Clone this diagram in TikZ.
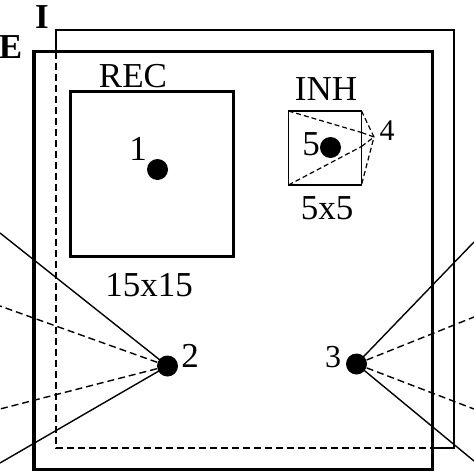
\documentclass[tikz,border=0pt]{standalone}
\usepackage{fontspec}
\setmainfont{Liberation Serif}
\begin{document}
\begin{tikzpicture}[x=1pt,y=-1pt,
  thickbox/.style={line width=3.6pt},
  medbox/.style={line width=3pt},
  thinbox/.style={line width=1.8pt},
  fanline/.style={line width=1.4pt},
  fandash/.style={line width=1.4pt,dash pattern=on 7pt off 4pt},
  hidden/.style={line width=1.2pt,dash pattern=on 7pt off 4pt},
  smalldash/.style={line width=1.2pt,dash pattern=on 5pt off 3pt},
  dot/.style={circle,fill=black,inner sep=0pt,minimum size=21pt},
  lbl/.style={inner sep=0pt,font=\fontsize{35}{40}\selectfont},
  blbl/.style={inner sep=0pt,font=\fontsize{35}{40}\selectfont\bfseries}]
\useasboundingbox (0,0) rectangle (474,474);
% I layer (thin), hidden parts dashed
\draw[thinbox] (56,51.5) -- (56,30) -- (454,30) -- (454,448) -- (432,448);
\draw[hidden] (56,51.5) -- (56,448) -- (432,448);
% E layer
\draw[thickbox] (34,51.5) rectangle (432.5,469.5);
% REC
\draw[medbox] (70,91.5) rectangle (233.5,256.5);
% INH
\draw[thinbox] (288.5,111) rectangle (361.5,185);
% labels
\node[blbl] (lE) at (10.5,47.5) {E};
\node[blbl] (lI) at (42,17) {I};
\node[lbl] (lREC) at (133,76) {REC};
\node[lbl] (lsize1) at (149,285) {15x15};
\node[lbl] (lINH) at (326,89) {INH};
\node[lbl] (lsize2) at (327,208) {5x5};
\node[lbl] (l1) at (138,149) {1};
\node[lbl] (l2) at (190,356) {2};
\node[lbl,font=\fontsize{32}{36}\selectfont] (l3) at (333,357) {3};
\node[lbl,font=\fontsize{30}{34}\selectfont] (l4) at (387,131) {4};
\node[lbl] (l5) at (311,144) {5};
% dots
\node[dot] (d1) at (157.5,169.5) {};
\node[dot] (d2) at (167.5,366) {};
\node[dot] (d3) at (356.5,364) {};
\node[dot] (d5) at (330.5,147.5) {};
% fan coordinates
\coordinate (a1) at (0,233);
\coordinate (a2) at (0,306);
\coordinate (a3) at (0,409);
\coordinate (a4) at (0,463);
\coordinate (b1) at (474,242);
\coordinate (b2) at (474,317);
\coordinate (b3) at (474,409);
\coordinate (b4) at (474,461);
\draw[fanline] (d2.center) -- (a1);
\draw[fandash] (d2.center) -- (a2);
\draw[fandash] (d2.center) -- (a3);
\draw[fanline] (d2.center) -- (a4);
\draw[fanline] (d3.center) -- (b1);
\draw[fandash] (d3.center) -- (b2);
\draw[fandash] (d3.center) -- (b3);
\draw[fanline] (d3.center) -- (b4);
% neuron 4 receptive field
\coordinate (p4) at (374,137);
\coordinate (c1) at (288.5,111);
\coordinate (c2) at (288.5,185);
\coordinate (c3) at (361.5,111);
\coordinate (c4) at (361.5,185);
\coordinate (m1) at (361.5,132.5);
\coordinate (m2) at (361.5,146.5);
\draw[smalldash] (c1) -- (m1);
\draw[smalldash] (c2) -- (m2);
\draw[smalldash] (c3) -- (p4) -- (c4);
\draw[smalldash] (m1) -- (p4);
\draw[smalldash] (m2) -- (p4);
\end{tikzpicture}
\end{document}
